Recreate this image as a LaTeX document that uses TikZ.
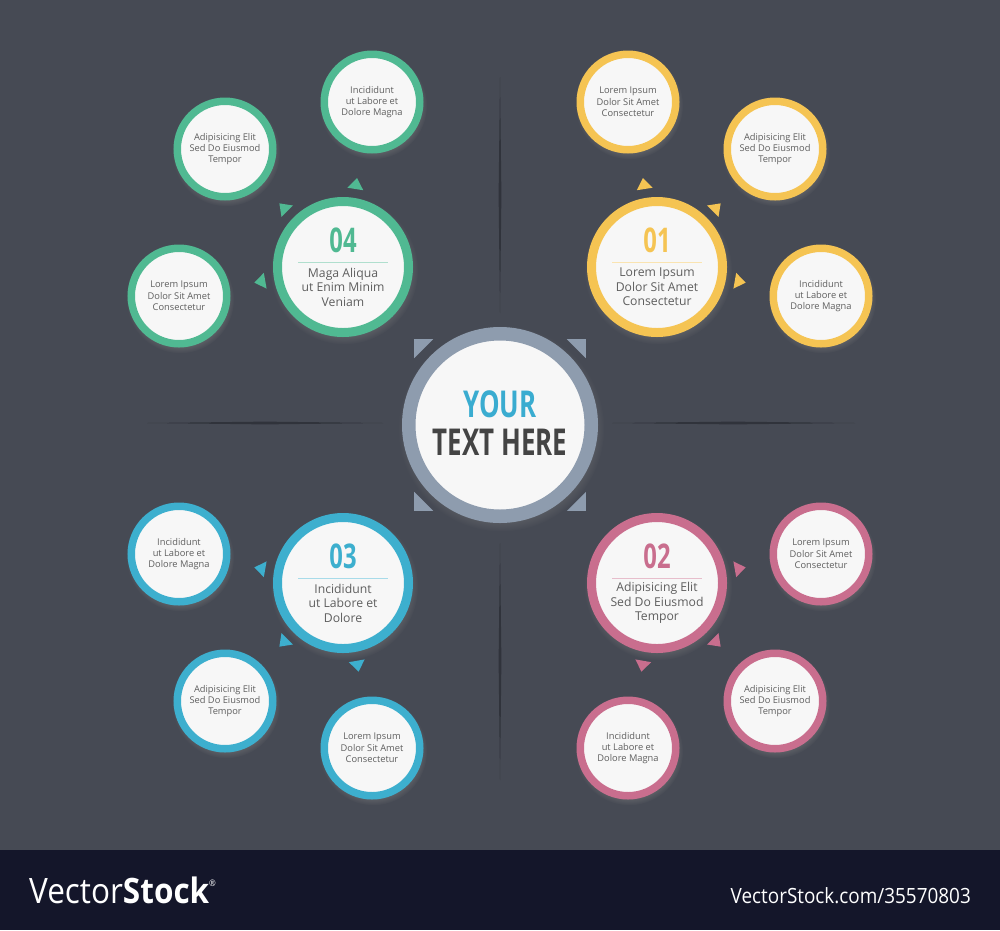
\documentclass[tikz,border=0pt]{standalone}
\usepackage{fontspec}
\setmainfont{Open Sans}
\newfontfamily\numfont[FakeStretch=0.7]{Open Sans}
\newfontfamily\logofont[FakeStretch=0.9]{Open Sans}
\usetikzlibrary{calc,shadows,positioning}

\definecolor{bg}{HTML}{464A54}
\definecolor{bar}{HTML}{14162A}
\definecolor{groove}{HTML}{30333B}
\definecolor{yel}{HTML}{F5C453}
\definecolor{grn}{HTML}{50B992}
\definecolor{blu}{HTML}{3DAFCE}
\definecolor{pnk}{HTML}{C96E8E}
\definecolor{hubring}{HTML}{8E9CAE}
\definecolor{paper}{HTML}{F7F7F7}
\definecolor{txt}{HTML}{5E5E5E}
\definecolor{dark}{HTML}{444444}
\definecolor{yourcol}{HTML}{3AACD0}

% little triangle: node, angle, radius, height, half width, colour
\newcommand\pointer[6]{%
  \fill[#6] ($(#1)+(#2:#3+#4)$) -- ($(#1)+(#2:#3)+(#2+90:#5)$)
            -- ($(#1)+(#2:#3)+(#2-90:#5)$) -- cycle;}

\begin{document}
\begin{tikzpicture}[x=1pt,y=-1pt,
    soft/.style={circular drop shadow={shadow scale=1.13,shadow xshift=1pt,
                 shadow yshift=-3pt,opacity=.45}},
    hub node/.style={circle,draw=hubring,line width=13.5pt,fill=paper,
                 minimum size=182.5pt,inner sep=0pt,soft},
    big node/.style={circle,draw=#1,line width=9pt,fill=paper,
                 minimum size=131pt,inner sep=0pt,soft},
    small node/.style={circle,draw=#1,line width=7.5pt,fill=paper,
                 minimum size=95.5pt,inner sep=0pt,soft,align=center,
                 text=txt,font=\fontsize{9.3}{11.3}\selectfont},
    num/.style={text=#1,font=\numfont\bfseries\fontsize{34}{34}\selectfont},
    head/.style={text=#1,font=\numfont\bfseries\fontsize{37}{37}\selectfont},
    big text/.style={align=center,text=txt,font=\fontsize{12.2}{14.5}\selectfont},
    divider/.style={#1!45,line width=1pt}]

  % background and bottom bar
  \fill[bg] (0,0) rectangle (1000,850);
  \fill[bar] (0,850) rectangle (1000,930);

  % grooves
  \fill[groove] (500,77) -- (501.4,195) -- (500,313) -- (498.6,195) -- cycle;
  \fill[groove] (500,543) -- (501.4,661) -- (500,780) -- (498.6,661) -- cycle;
  \fill[groove] (147,423) -- (265,424.4) -- (383,423) -- (265,421.6) -- cycle;
  \fill[groove] (612,423) -- (733,424.4) -- (855,423) -- (733,421.6) -- cycle;

  % hub
  \node[hub node] (hub) at (500,425) {};
  \pointer{hub}{-45}{108}{13.5}{13.5}{hubring}
  \pointer{hub}{-135}{108}{13.5}{13.5}{hubring}
  \pointer{hub}{45}{108}{13.5}{13.5}{hubring}
  \pointer{hub}{135}{108}{13.5}{13.5}{hubring}
  \node[head=yourcol] (your) at (500,404) {YOUR};
  \node[head=dark] (here) at (500,442) {TEXT HERE};

  % 01
  \node[big node=yel] (one) at (657,267) {};
  \node[num=yel] (n1) at ($(one)+(0,-27)$) {01};
  \draw[divider=yel] ($(one)+(-45,-5)$) -- ($(one)+(45,-5)$);
  \node[big text] (t1) at ($(one)+(0,20)$) {Lorem Ipsum\\Dolor Sit Amet\\Consectetur};
  \pointer{one}{-99}{79}{11}{8}{yel}
  \pointer{one}{-45}{79}{11}{8}{yel}
  \pointer{one}{10}{79}{11}{8}{yel}
  \node[small node=yel] (oneA) at (628,102) {Lorem Ipsum\\Dolor Sit Amet\\Consectetur};
  \node[small node=yel] (oneB) at (775,149) {Adipisicing Elit\\Sed Do Eiusmod\\Tempor};
  \node[small node=yel] (oneC) at (821,296) {Incididunt\\ut Labore et\\Dolore Magna};

  % 02
  \node[big node=pnk] (two) at (657,583) {};
  \node[num=pnk] (n2) at ($(two)+(0,-27)$) {02};
  \draw[divider=pnk] ($(two)+(-45,-5)$) -- ($(two)+(45,-5)$);
  \node[big text] (t2) at ($(two)+(0,20)$) {Adipisicing Elit\\Sed Do Eiusmod\\Tempor};
  \pointer{two}{-10}{79}{11}{8}{pnk}
  \pointer{two}{45}{79}{11}{8}{pnk}
  \pointer{two}{100}{79}{11}{8}{pnk}
  \node[small node=pnk] (twoA) at (821,554) {Lorem Ipsum\\Dolor Sit Amet\\Consectetur};
  \node[small node=pnk] (twoB) at (775,701) {Adipisicing Elit\\Sed Do Eiusmod\\Tempor};
  \node[small node=pnk] (twoC) at (628,748) {Incididunt\\ut Labore et\\Dolore Magna};

  % 03
  \node[big node=blu] (three) at (343,583) {};
  \node[num=blu] (n3) at ($(three)+(0,-27)$) {03};
  \draw[divider=blu] ($(three)+(-45,-5)$) -- ($(three)+(45,-5)$);
  \node[big text] (t3) at ($(three)+(0,20)$) {Incididunt\\ut Labore et\\Dolore};
  \pointer{three}{190}{79}{11}{8}{blu}
  \pointer{three}{135}{79}{11}{8}{blu}
  \pointer{three}{80}{79}{11}{8}{blu}
  \node[small node=blu] (threeA) at (179,554) {Incididunt\\ut Labore et\\Dolore Magna};
  \node[small node=blu] (threeB) at (225,701) {Adipisicing Elit\\Sed Do Eiusmod\\Tempor};
  \node[small node=blu] (threeC) at (372,748) {Lorem Ipsum\\Dolor Sit Amet\\Consectetur};

  % 04
  \node[big node=grn] (four) at (343,267) {};
  \node[num=grn] (n4) at ($(four)+(0,-27)$) {04};
  \draw[divider=grn] ($(four)+(-45,-5)$) -- ($(four)+(45,-5)$);
  \node[big text] (t4) at ($(four)+(0,20)$) {Maga Aliqua\\ut Enim Minim\\Veniam};
  \pointer{four}{-81}{79}{11}{8}{grn}
  \pointer{four}{-135}{79}{11}{8}{grn}
  \pointer{four}{170}{79}{11}{8}{grn}
  \node[small node=grn] (fourA) at (372,102) {Incididunt\\ut Labore et\\Dolore Magna};
  \node[small node=grn] (fourB) at (225,149) {Adipisicing Elit\\Sed Do Eiusmod\\Tempor};
  \node[small node=grn] (fourC) at (179,296) {Lorem Ipsum\\Dolor Sit Amet\\Consectetur};

  % bottom bar
  \node[anchor=base west,inner sep=0pt,text=white,
        font=\logofont\fontsize{35}{35}\selectfont] (brand) at (29,903)
        {Vector\textbf{Stock}\raisebox{17pt}{\fontsize{9}{9}\selectfont ®}};
  \node[anchor=base east,inner sep=0pt,text=white,
        font=\logofont\fontsize{21}{21}\selectfont] (url) at (971,903)
        {VectorStock.com/35570803};
\end{tikzpicture}
\end{document}
